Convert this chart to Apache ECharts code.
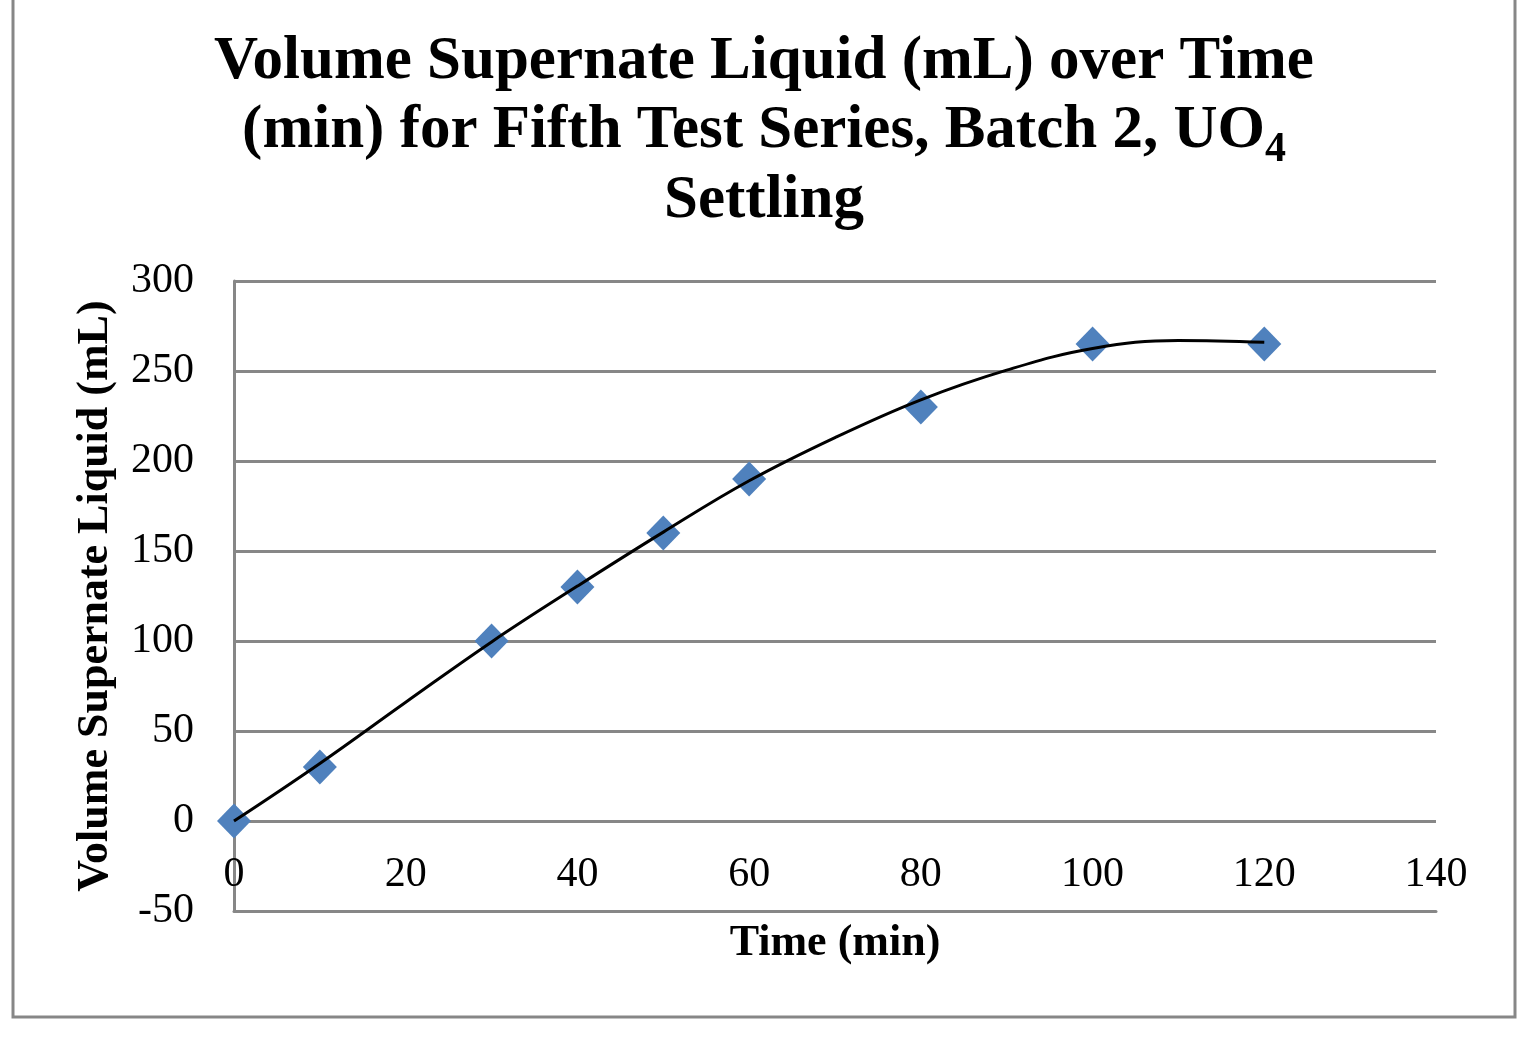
<!DOCTYPE html>
<html>
<head>
<meta charset="utf-8">
<script src="https://cdn.jsdelivr.net/npm/echarts@6/dist/echarts.min.js"></script>
<style>
html,body{margin:0;padding:0;background:#fff;}
#chart{width:1521px;height:1037px;}
</style>
</head>
<body>
<div id="chart"></div>
<script>
// Measured data points (time in min, volume in mL)
const timeMin = [0, 10, 30, 40, 50, 60, 80, 100, 120];
const volumeMl = [0, 30, 100, 130, 160, 190, 230, 265, 265];

// Trendline
const trendTime = [0, 10, 20, 30, 40, 50, 60, 70, 80, 90, 100, 110, 120];
const trendVolume = [0, 32, 66, 99.5, 130.5, 160.5, 189, 213, 234, 250.5, 262.5, 267, 266];

// Axis ticks
const xTicks = [0, 20, 40, 60, 80, 100, 120, 140];
const yTicks = [-50, 0, 50, 100, 150, 200, 250, 300];

const titleLine1 = 'Volume Supernate Liquid (mL) over Time';
const titleLine2a = '(min) for Fifth Test Series, Batch 2, UO';
const titleLine2sub = '4';
const titleLine3 = 'Settling';
const xName = 'Time (min)';
const yName = 'Volume Supernate Liquid (mL)';

const SERIF = '"Liberation Serif", "DejaVu Serif", serif';
const GRAY = '#878787';

const chart = echarts.init(document.getElementById('chart'), null, {renderer: 'canvas'});

const scatterData = timeMin.map((t, i) => [t, volumeMl[i]]);
const trendData = trendTime.map((t, i) => [t, trendVolume[i]]);

chart.setOption({
  backgroundColor: '#ffffff',
  animation: false,
  graphic: [{
    type: 'rect',
    z: -1,
    shape: {x: 13, y: -10, width: 1502, height: 1027},
    style: {fill: 'none', stroke: GRAY, lineWidth: 3}
  }],
  title: {
    text: '{m|' + titleLine1 + '}\n{m|' + titleLine2a + '}{s|' + titleLine2sub + '}\n{m|' + titleLine3 + '}',
    left: 764,
    textAlign: 'center',
    top: 27,
    padding: 0,
    textStyle: {
      rich: {
        m: {fontFamily: SERIF, fontWeight: 'bold', fontSize: 61, lineHeight: 69.5, color: '#000'},
        s: {fontFamily: SERIF, fontWeight: 'bold', fontSize: 42, lineHeight: 30, padding: [38, 0, 0, 0], color: '#000'}
      }
    }
  },
  grid: {left: 234, right: 85, top: 281, bottom: 126, containLabel: false, outerBoundsMode: 'none'},
  xAxis: {
    type: 'value',
    min: 0, max: 140, interval: 20,
    name: xName,
    nameLocation: 'middle',
    nameGap: 11,
    nameTextStyle: {fontFamily: SERIF, fontWeight: 'bold', fontSize: 44, color: '#000'},
    axisLine: {show: true, onZero: false, lineStyle: {color: GRAY, width: 3}},
    axisTick: {show: false},
    axisLabel: {fontFamily: SERIF, fontSize: 42, color: '#000', margin: -57,
      formatter: v => xTicks.includes(v) ? String(v) : ''},
    splitLine: {show: false}
  },
  yAxis: {
    type: 'value',
    min: -50, max: 300, interval: 50,
    name: yName,
    nameLocation: 'middle',
    nameGap: 116,
    nameTextStyle: {fontFamily: SERIF, fontWeight: 'bold', fontSize: 44, color: '#000'},
    axisLine: {show: true, onZero: false, lineStyle: {color: GRAY, width: 3}},
    axisTick: {show: false},
    axisLabel: {fontFamily: SERIF, fontSize: 42, color: '#000', margin: 40,
      formatter: v => yTicks.includes(v) ? String(v) : ''},
    splitLine: {show: true, lineStyle: {color: GRAY, width: 3}}
  },
  series: [
    {
      type: 'scatter',
      data: scatterData,
      symbol: 'diamond',
      symbolSize: [34, 35],
      itemStyle: {color: '#4F81BD', opacity: 1},
      z: 2
    },
    {
      type: 'line',
      data: trendData,
      smooth: 0.4,
      showSymbol: false,
      symbol: 'none',
      lineStyle: {color: '#000', width: 3},
      z: 3
    }
  ]
});
</script>
</body>
</html>
